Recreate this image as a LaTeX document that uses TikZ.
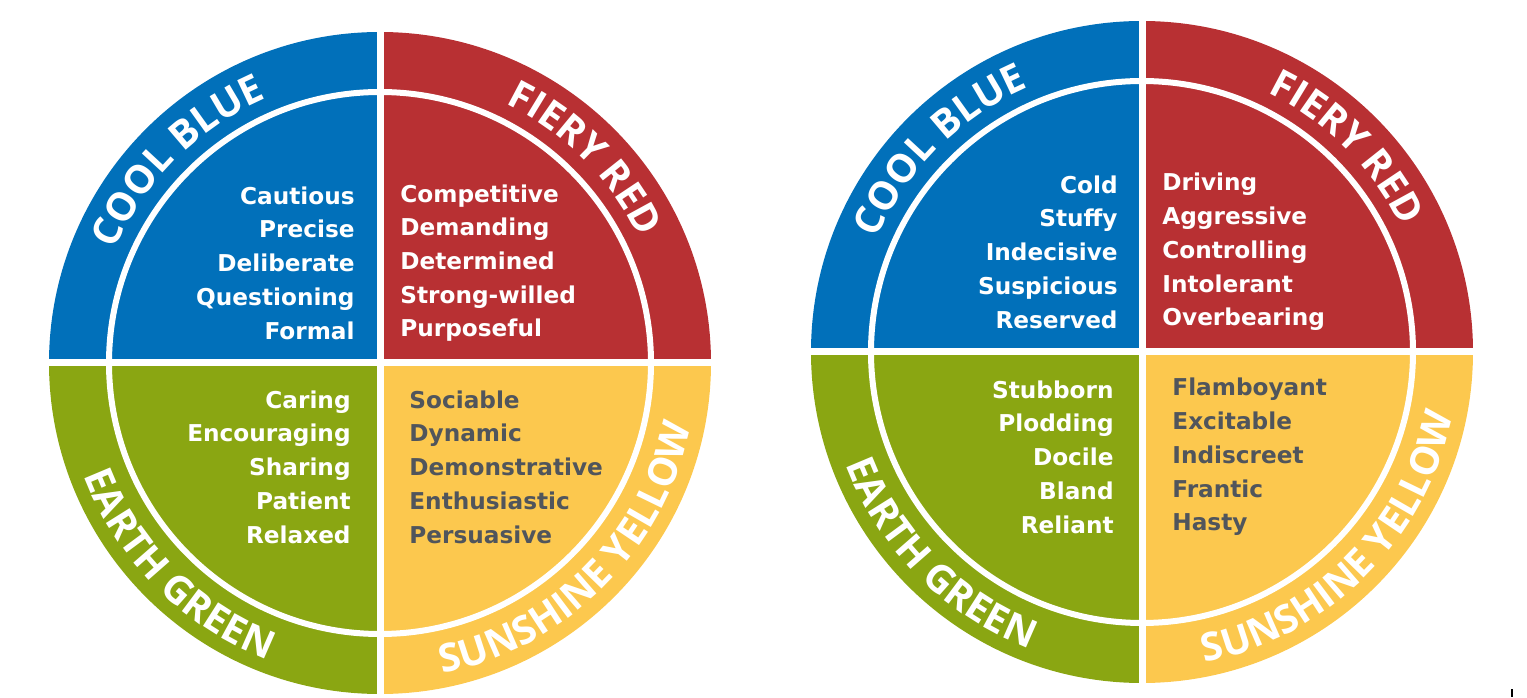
\documentclass[tikz,border=0pt]{standalone}
\usepackage{fontspec}
\usepackage{tikz}
\usetikzlibrary{decorations.text}
\newfontfamily\listfont{DejaVu Sans}
\newfontfamily\ringfont{Open Sans}
\definecolor{coolblue}{RGB}{1,112,186}
\definecolor{fieryred}{RGB}{184,48,51}
\definecolor{earthgreen}{RGB}{138,166,18}
\definecolor{sunyellow}{RGB}{252,200,78}
\definecolor{ink}{RGB}{80,85,92}

\begin{document}
\begin{tikzpicture}[x=0.5pt,y=0.5pt,
  gap/.style={white,line width=3.5pt},
  rim/.style={white,line width=3pt},
  lst/.style={inner sep=0pt,font=\listfont\bfseries\fontsize{11.6}{16.85}\selectfont},
  lbl/.style={decorate,decoration={text along path,text align=center,
    text={|\ringfont\bfseries\fontsize{19.6}{19.6}\selectfont\color{white}|#1}}}]
\def\R{331}\def\Ri{271}\def\Rt{288}\def\Rb{317}
\useasboundingbox (0,0) rectangle (1527,697);
%------------- left wheel: strengths
\begin{scope}[shift={(380,334)}]
\foreach \a/\c in {90/coolblue,0/fieryred,180/earthgreen,270/sunyellow}
  \fill[\c] (0,0) -- (\a:\R) arc[start angle=\a,delta angle=90,radius=\R] -- cycle;
\draw[gap] (-\R-3,0) -- (\R+3,0); \draw[gap] (0,-\R-3) -- (0,\R+3);
\draw[rim] (0,0) circle[radius=\Ri];
\path[lbl=COOL BLUE] (180:\Rt) arc[start angle=180,end angle=90,radius=\Rt];
\path[lbl=FIERY RED] (90:\Rt) arc[start angle=90,end angle=0,radius=\Rt];
\path[lbl=EARTH GREEN] (180:\Rb) arc[start angle=180,end angle=270,radius=\Rb];
\path[lbl=SUNSHINE YELLOW] (270:\Rb) arc[start angle=270,end angle=360,radius=\Rb];
\node[lst,white,align=right,anchor=east] (lblue) at (-25,100) {Cautious\\Precise\\Deliberate\\Questioning\\Formal};
\node[lst,white,align=left,anchor=west] (lred) at (20,100) {Competitive\\Demanding\\Determined\\Strong-willed\\Purposeful};
\node[lst,white,align=right,anchor=east] (lgreen) at (-29,-104) {Caring\\Encouraging\\Sharing\\Patient\\Relaxed};
\node[lst,ink,align=left,anchor=west] (lyellow) at (29,-104) {Sociable\\Dynamic\\Demonstrative\\Enthusiastic\\Persuasive};
\end{scope}
%------------- right wheel: weaknesses
\begin{scope}[shift={(1142,345)}]
\foreach \a/\c in {90/coolblue,0/fieryred,180/earthgreen,270/sunyellow}
  \fill[\c] (0,0) -- (\a:\R) arc[start angle=\a,delta angle=90,radius=\R] -- cycle;
\draw[gap] (-\R-3,0) -- (\R+3,0); \draw[gap] (0,-\R-3) -- (0,\R+3);
\draw[rim] (0,0) circle[radius=\Ri];
\path[lbl=COOL BLUE] (180:\Rt) arc[start angle=180,end angle=90,radius=\Rt];
\path[lbl=FIERY RED] (90:\Rt) arc[start angle=90,end angle=0,radius=\Rt];
\path[lbl=EARTH GREEN] (180:\Rb) arc[start angle=180,end angle=270,radius=\Rb];
\path[lbl=SUNSHINE YELLOW] (270:\Rb) arc[start angle=270,end angle=360,radius=\Rb];
\node[lst,white,align=right,anchor=east] (rblue) at (-24,100) {Cold\\Stuffy\\Indecisive\\Suspicious\\Reserved};
\node[lst,white,align=left,anchor=west] (rred) at (20,100) {Driving\\Aggressive\\Controlling\\Intolerant\\Overbearing};
\node[lst,white,align=right,anchor=east] (rgreen) at (-28,-105) {Stubborn\\Plodding\\Docile\\Bland\\Reliant};
\node[lst,ink,align=left,anchor=west] (ryellow) at (30,-105) {Flamboyant\\Excitable\\Indiscreet\\Frantic\\Hasty};
\end{scope}
\fill[black] (1511,0) rectangle (1513,8);
\end{tikzpicture}
\end{document}
